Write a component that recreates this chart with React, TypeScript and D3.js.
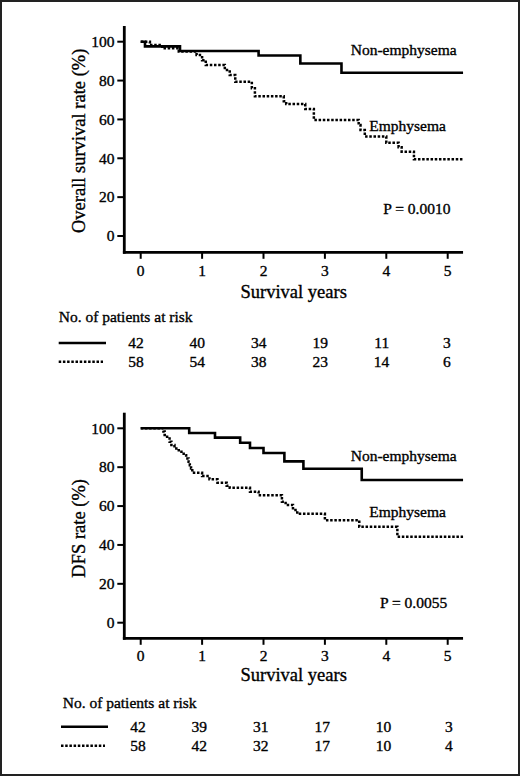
import React from "react";
import * as d3 from "d3";

// ---------- DATA ----------
const yearTicks = [0, 1, 2, 3, 4, 5];
const rateTicks = [0, 20, 40, 60, 80, 100];
const groupNames = ["Non-emphysema", "Emphysema"];

// Overall survival (top)
const osNonTimes = [0, 0.07, 0.64, 1.92, 2.6, 3.27, 5.25];
const osNonValues = [100, 97.6, 95.2, 92.9, 88.8, 84.0, 84.0];
const osEmphTimes = [0, 0.15, 0.35, 0.62, 0.91, 1.0, 1.06, 1.37, 1.45, 1.54, 1.81, 1.86, 2.33, 2.37, 2.68, 2.82, 3.55, 3.58, 3.65, 4.0, 4.2, 4.25, 4.45, 5.25];
const osEmphValues = [100, 98.3, 96.6, 94.9, 93.1, 90.5, 88.0, 85.4, 82.9, 79.4, 76.0, 71.9, 69.4, 67.9, 65.4, 59.7, 57.1, 54.6, 51.2, 48.0, 45.7, 43.4, 39.5, 39.5];
const osRiskNon = [42, 40, 34, 19, 11, 3];
const osRiskEmph = [58, 54, 38, 23, 14, 6];

// Disease-free survival (bottom)
const dfsNonTimes = [0, 0.79, 1.21, 1.62, 1.78, 2.0, 2.34, 2.65, 3.6, 5.25];
const dfsNonValues = [100, 97.6, 95.2, 92.6, 89.9, 87.3, 83.0, 79.2, 73.4, 73.4];
const dfsEmphTimes = [0, 0.37, 0.39, 0.43, 0.47, 0.5, 0.55, 0.62, 0.7, 0.74, 0.78, 0.8, 0.82, 0.84, 1.0, 1.12, 1.25, 1.4, 1.45, 1.78, 1.92, 2.3, 2.36, 2.48, 2.55, 3.0, 3.56, 4.18, 5.25];
const dfsEmphValues = [100, 98.3, 96.6, 94.8, 93.1, 91.4, 89.6, 87.9, 86.2, 84.5, 82.8, 81.0, 79.3, 77.1, 75.4, 73.8, 72.0, 70.4, 69.4, 67.4, 65.6, 62.2, 60.6, 58.0, 56.0, 52.7, 49.3, 44.2, 44.2];
const dfsRiskNon = [42, 39, 31, 17, 10, 3];
const dfsRiskEmph = [58, 42, 32, 17, 10, 4];

const FONT = '"Liberation Serif", "Times New Roman", Times, serif';
const DOT = "2.5,1.7";

type PanelProps = {
  y100: number;
  y0: number;
  axisTop: number;
  axisBottom: number;
  tickLabelY: number;
  titleY: number;
  yTitle: string;
  yTitleCenter: number;
  pText: string;
  pX: number;
  pY: number;
  nonLabelY: number;
  emphLabelY: number;
  headerX: number;
  headerY: number;
  rowY: [number, number];
  legendX: [number, number];
  numOffset: number;
  non: [number[], number[]];
  emph: [number[], number[]];
  riskNon: number[];
  riskEmph: number[];
};

function Panel(p: PanelProps) {
  const x = d3.scaleLinear().domain([0, 5]).range([140.7, 447.7]);
  const y = d3.scaleLinear().domain([0, 100]).range([p.y0, p.y100]);
  const axisX = 124.3;
  const axisRight = x(5.25);
  const line = d3
    .line<[number, number]>()
    .x((d) => x(d[0]))
    .y((d) => y(d[1]))
    .curve(d3.curveStepAfter);
  const nonPts = p.non[0].map((t, i) => [t, p.non[1][i]] as [number, number]);
  const emphPts = p.emph[0].map((t, i) => [t, p.emph[1][i]] as [number, number]);
  const rows = [p.riskNon, p.riskEmph];
  return (
    <g>
      {/* curves */}
      <path d={line(emphPts) || ""} fill="none" stroke="#000" strokeWidth={2.5} strokeDasharray={DOT} />
      <path d={line(nonPts) || ""} fill="none" stroke="#000" strokeWidth={2.6} />
      {/* axes */}
      <line x1={axisX} x2={axisX} y1={p.axisTop} y2={p.axisBottom + 1.4} stroke="#000" strokeWidth={2.8} />
      <line x1={axisX - 1.4} x2={axisRight} y1={p.axisBottom} y2={p.axisBottom} stroke="#000" strokeWidth={2.8} />
      <g fontFamily={FONT} fill="#000" stroke="#000" strokeWidth={0.35}>
        {rateTicks.map((v) => (
          <g key={"y" + v}>
            <line x1={axisX - 7} x2={axisX} y1={y(v)} y2={y(v)} stroke="#000" strokeWidth={2} />
            <text x={114.5} y={y(v) + 5.3} textAnchor="end" fontSize={15.5}>
              {v}
            </text>
          </g>
        ))}
        {yearTicks.map((t) => (
          <g key={"x" + t}>
            <line x1={x(t)} x2={x(t)} y1={p.axisBottom} y2={p.axisBottom + 6.5} stroke="#000" strokeWidth={2} />
            <text x={x(t)} y={p.tickLabelY + 5.3} textAnchor="middle" fontSize={15.5}>
              {t}
            </text>
          </g>
        ))}
        <text x={293.7} y={p.titleY} textAnchor="middle" fontSize={18.5}>
          Survival years
        </text>
        <text
          transform={`translate(85,${p.yTitleCenter}) rotate(-90)`}
          textAnchor="middle"
          fontSize={18.5}
        >
          {p.yTitle}
        </text>
        {/* labels */}
        <text x={350.7} y={p.nonLabelY} fontSize={15.5}>
          {groupNames[0]}
        </text>
        <text x={369.3} y={p.emphLabelY} fontSize={15.5}>
          {groupNames[1]}
        </text>
        <text x={p.pX} y={p.pY} fontSize={15.5}>
          {p.pText}
        </text>
        {/* risk table */}
        <text x={p.headerX} y={p.headerY} fontSize={15.5}>
          No. of patients at risk
        </text>
        {rows.map((r, ri) =>
          r.map((n, i) => (
            <text
              key={ri + "-" + i}
              x={x(yearTicks[i]) + p.numOffset}
              y={p.rowY[ri] + 5.3}
              textAnchor="end"
              fontSize={15.5}
            >
              {n}
            </text>
          ))
        )}
      </g>
      <line x1={p.legendX[0]} x2={p.legendX[1]} y1={p.rowY[0]} y2={p.rowY[0]} stroke="#000" strokeWidth={2.6} />
      <line
        x1={p.legendX[0]}
        x2={p.legendX[1] - 3}
        y1={p.rowY[1]}
        y2={p.rowY[1]}
        stroke="#000"
        strokeWidth={2.5}
        strokeDasharray={DOT}
      />
    </g>
  );
}

export default function App() {
  return (
    <svg
      width={520}
      height={776}
      style={{ position: "absolute", left: 0, top: 0, background: "#fff" }}
    >
      <rect x={0} y={0} width={520} height={776} fill="#fff" />
      <Panel
        y100={41.7}
        y0={236}
        axisTop={26}
        axisBottom={252.3}
        tickLabelY={270.7}
        titleY={298}
        yTitle="Overall survival rate (%)"
        yTitleCenter={140.8}
        pText="P = 0.0010"
        pX={383.3}
        pY={213.5}
        nonLabelY={54.5}
        emphLabelY={130.5}
        headerX={58.7}
        headerY={322}
        rowY={[343, 361.7]}
        legendX={[58.7, 106]}
        numOffset={3}
        non={[osNonTimes, osNonValues]}
        emph={[osEmphTimes, osEmphValues]}
        riskNon={osRiskNon}
        riskEmph={osRiskEmph}
      />
      <Panel
        y100={428.3}
        y0={622.7}
        axisTop={412.7}
        axisBottom={638.3}
        tickLabelY={655.7}
        titleY={681}
        yTitle="DFS rate (%)"
        yTitleCenter={528.3}
        pText="P = 0.0055"
        pX={380}
        pY={607.5}
        nonLabelY={460.5}
        emphLabelY={517}
        headerX={62.7}
        headerY={708}
        rowY={[726.7, 745.7]}
        legendX={[61, 108]}
        numOffset={5}
        non={[dfsNonTimes, dfsNonValues]}
        emph={[dfsEmphTimes, dfsEmphValues]}
        riskNon={dfsRiskNon}
        riskEmph={dfsRiskEmph}
      />
      <rect x={1} y={1} width={518} height={774} fill="none" stroke="#222" strokeWidth={2} />
    </svg>
  );
}
